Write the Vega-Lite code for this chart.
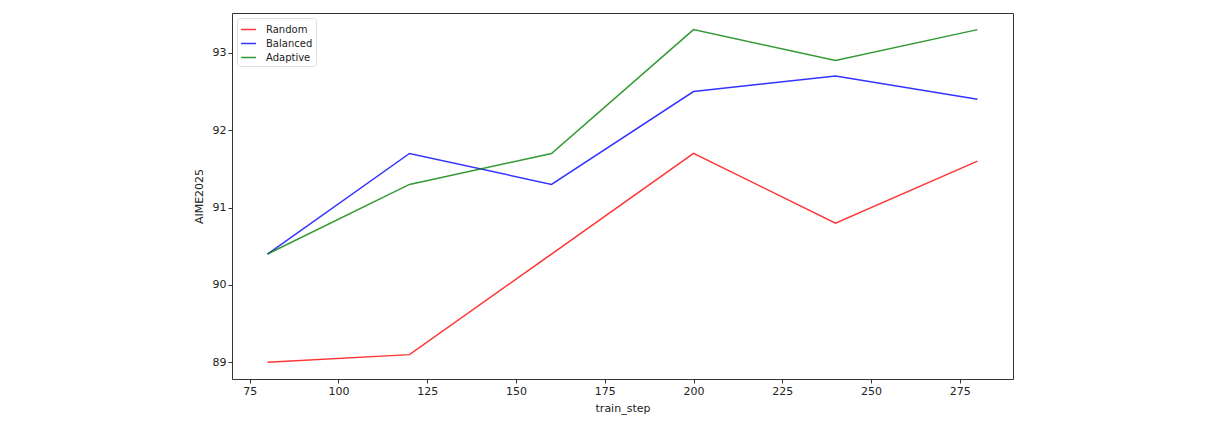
{
  "$schema": "https://vega.github.io/schema/vega-lite/v6.json",
  "autosize": {"type": "none"},
  "width": 781,
  "height": 366,
  "padding": {"left": 232, "top": 13, "right": 202, "bottom": 62},
  "background": "white",
  "config": {
    "font": "DejaVu Sans",
    "view": {"stroke": "#333333", "strokeWidth": 1},
    "axis": {
      "grid": false,
      "domain": false,
      "tickColor": "#333333",
      "tickSize": 4,
      "labelFont": "DejaVu Sans",
      "labelFontSize": 11,
      "labelColor": "#222222",
      "titleFont": "DejaVu Sans",
      "titleFontSize": 11,
      "titleFontWeight": "normal",
      "titleColor": "#222222"
    }
  },
  "data": {
    "values": [
      {"train_step": 80, "series": "Random", "value": 89.0},
      {"train_step": 120, "series": "Random", "value": 89.1},
      {"train_step": 160, "series": "Random", "value": 90.4},
      {"train_step": 200, "series": "Random", "value": 91.7},
      {"train_step": 240, "series": "Random", "value": 90.8},
      {"train_step": 280, "series": "Random", "value": 91.6},
      {"train_step": 80, "series": "Balanced", "value": 90.4},
      {"train_step": 120, "series": "Balanced", "value": 91.7},
      {"train_step": 160, "series": "Balanced", "value": 91.3},
      {"train_step": 200, "series": "Balanced", "value": 92.5},
      {"train_step": 240, "series": "Balanced", "value": 92.7},
      {"train_step": 280, "series": "Balanced", "value": 92.4},
      {"train_step": 80, "series": "Adaptive", "value": 90.4},
      {"train_step": 120, "series": "Adaptive", "value": 91.3},
      {"train_step": 160, "series": "Adaptive", "value": 91.7},
      {"train_step": 200, "series": "Adaptive", "value": 93.3},
      {"train_step": 240, "series": "Adaptive", "value": 92.9},
      {"train_step": 280, "series": "Adaptive", "value": 93.3}
    ]
  },
  "mark": {"type": "line", "strokeWidth": 1.5, "opacity": 0.8},
  "encoding": {
    "x": {
      "field": "train_step",
      "type": "quantitative",
      "scale": {"domain": [70, 290], "nice": false, "zero": false},
      "axis": {"values": [75, 100, 125, 150, 175, 200, 225, 250, 275], "title": "train_step", "titlePadding": 6}
    },
    "y": {
      "field": "value",
      "type": "quantitative",
      "scale": {"domain": [88.785, 93.515], "nice": false, "zero": false},
      "axis": {"values": [89, 90, 91, 92, 93], "title": "AIME2025", "titlePadding": 8}
    },
    "color": {
      "field": "series",
      "type": "nominal",
      "sort": ["Random", "Balanced", "Adaptive"],
      "scale": {"domain": ["Random", "Balanced", "Adaptive"], "range": ["#ff0000", "#0000ff", "#008000"]},
      "legend": {
        "title": null,
        "orient": "none",
        "legendX": 5,
        "legendY": 5,
        "symbolType": "stroke",
        "symbolSize": 220,
        "symbolStrokeWidth": 1.5,
        "labelFontSize": 10,
        "labelColor": "#222222",
        "labelOffset": 9,
        "rowPadding": 0,
        "padding": 3,
        "fillColor": "white",
        "strokeColor": "#dddddd",
        "cornerRadius": 3
      }
    }
  }
}
